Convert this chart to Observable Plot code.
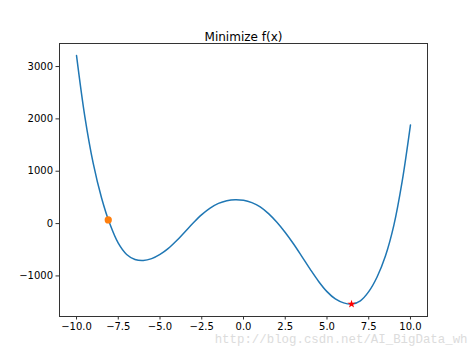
<!DOCTYPE html>
<html>
<head>
<meta charset="utf-8">
<script src="https://cdn.jsdelivr.net/npm/d3@7"></script>
<script src="https://cdn.jsdelivr.net/npm/@observablehq/plot@0.6"></script>
<style>
  html, body { margin: 0; padding: 0; background: #fff; }
</style>
</head>
<body>
<div id="chart"></div>
<script>
const xValues = [-10, -9.5, -9, -8.5, -8, -7.5, -7, -6.5, -6, -5.5, -5, -4.5, -4, -3.5, -3, -2.5, -2, -1.5, -1, -0.5, 0, 0.5, 1, 1.5, 2, 2.5, 3, 3.5, 4, 4.5, 5, 5.5, 6, 6.5, 7, 7.5, 8, 8.5, 9, 9.5, 10];
const fValues = [3210, 2040, 1150, 490, -10, -375, -590, -685, -705, -670, -590, -475, -325, -155, 15, 170, 295, 385, 437, 457, 445, 400, 320, 190, 25, -170, -390, -630, -875, -1105, -1300, -1440, -1515, -1537, -1475, -1300, -1020, -620, -40, 800, 1885];
const startPoint = [{x: -8.1, y: 70}];
const bestPoint = [{x: 6.47, y: -1537}];
const xTicks = [-10, -7.5, -5, -2.5, 0, 2.5, 5, 7.5, 10];
const yTicks = [-1000, 0, 1000, 2000, 3000];
const titleText = "Minimize f(x)";
const watermark = "http://blog.csdn.net/AI_BigData_wh";

const curve = xValues.map((x, i) => ({x, y: fValues[i]}));

const chart = Plot.plot({
  width: 474,
  height: 355,
  marginLeft: 59,
  marginRight: 47,
  marginTop: 43,
  marginBottom: 39,
  x: {domain: [-11.02, 11.02]},
  y: {domain: [-1775, 3440]},
  style: {fontFamily: "DejaVu Sans", fontSize: "10px", color: "#000", background: "#fff"},
  marks: [
    Plot.line(curve, {x: "x", y: "y", stroke: "#1f77b4", strokeWidth: 1.5, curve: "catmull-rom"}),
    Plot.dot(startPoint, {x: "x", y: "y", fill: "#ff7f0e", stroke: "none", r: 3.6}),
    Plot.dot(bestPoint, {x: "x", y: "y", fill: "#ff0000", stroke: "none", symbol: "star", r: 2.6}),
    Plot.frame({stroke: "#333", strokeWidth: 1}),
    Plot.axisX({ticks: xTicks, tickFormat: d3.format(".1f"), tickSize: 3.5, tickPadding: 3, label: null, stroke: "#333"}),
    Plot.axisY({ticks: yTicks, tickFormat: d3.format("d"), tickSize: 3.5, tickPadding: 3, label: null, stroke: "#333"}),
    Plot.text([titleText], {frameAnchor: "top", dy: -11, fontSize: 12, fill: "#000"}),
    Plot.text([watermark], {frameAnchor: "bottom-right", dx: 40, dy: 26, textAnchor: "end", fontSize: 12.4, fontFamily: "Liberation Mono", fill: "#dcdcdc"})
  ]
});
document.getElementById("chart").appendChild(chart);
</script>
</body>
</html>
